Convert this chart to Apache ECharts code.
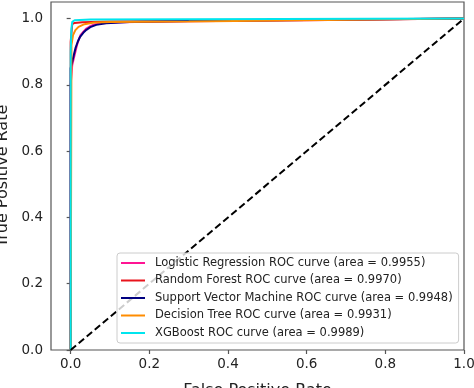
<!DOCTYPE html>
<html>
<head>
<meta charset="utf-8">
<script src="https://cdn.jsdelivr.net/npm/echarts@6/dist/echarts.min.js"></script>
<style>html,body{margin:0;padding:0;background:#fff}#c{width:474px;height:388px}</style>
</head>
<body>
<div id="c"></div>
<script>
// ROC curve data (false positive rate, true positive rate)
const lrFpr  = [0, 0, 0.004, 0.008, 0.012, 0.016, 0.02, 0.025, 0.032, 0.04, 0.05, 0.06, 0.08, 0.12, 0.3, 0.6, 1];
const lrTpr  = [0, 0.80, 0.86, 0.88, 0.90, 0.92, 0.935, 0.95, 0.96, 0.97, 0.977, 0.982, 0.986, 0.989, 0.992, 0.995, 1];
const rfFpr  = [0, 0, 0.004, 0.01, 0.03, 0.1, 0.4, 1];
const rfTpr  = [0, 0.93, 0.983, 0.987, 0.989, 0.991, 0.994, 1];
const svmFpr = [0, 0, 0.004, 0.008, 0.012, 0.018, 0.024, 0.032, 0.04, 0.05, 0.065, 0.09, 0.15, 0.3, 0.6, 1];
const svmTpr = [0, 0.85, 0.87, 0.89, 0.91, 0.93, 0.945, 0.957, 0.966, 0.974, 0.981, 0.986, 0.99, 0.993, 0.996, 1];
const dtFpr  = [0, 0.002, 0.006, 0.012, 0.02, 0.035, 0.06, 0.1, 0.3, 1];
const dtTpr  = [0, 0.92, 0.95, 0.965, 0.975, 0.983, 0.988, 0.99, 0.991, 1];
const xgbFpr = [0, 0, 0.002, 0.004, 0.01, 0.05, 0.3, 1];
const xgbTpr = [0, 0.90, 0.97, 0.99, 0.995, 0.997, 0.998, 1];
const diagFpr = [0, 1];
const diagTpr = [0, 1];

const names = [
  'Logistic Regression ROC curve (area = 0.9955)',
  'Random Forest ROC curve (area = 0.9970)',
  'Support Vector Machine ROC curve (area = 0.9948)',
  'Decision Tree ROC curve (area = 0.9931)',
  'XGBoost ROC curve (area = 0.9989)'
];
const colors = ['#ff1493', '#e8141c', '#000080', '#ff8c00', '#00e5ee'];
const xTicks = [0, 0.2, 0.4, 0.6, 0.8, 1.0];
const yTicks = [0, 0.2, 0.4, 0.6, 0.8, 1.0];

const zip = (a, b) => a.map((v, i) => [v, b[i]]);
const curves = [[lrFpr, lrTpr], [rfFpr, rfTpr], [svmFpr, svmTpr], [dtFpr, dtTpr], [xgbFpr, xgbTpr]];

const font = 'DejaVu Sans';
const chart = echarts.init(document.getElementById('c'), null, {renderer: 'canvas'});
const series = curves.map((c, i) => ({
  name: names[i], type: 'line', data: zip(c[0], c[1]), symbol: 'none',
  lineStyle: {color: colors[i], width: 2}, itemStyle: {color: colors[i]},
  animation: false, z: 2 + i * 0.01
}));
series.push({
  name: 'diag', type: 'line', data: zip(diagFpr, diagTpr), symbol: 'none',
  lineStyle: {color: '#000', width: 2, type: [7, 3.5]}, animation: false, z: 3
});

chart.setOption({
  animation: false,
  grid: {left: 51, right: 10, top: 2, bottom: 38, containLabel: false, outerBoundsMode: 'none',
         show: true, borderColor: '#555', borderWidth: 1.2, backgroundColor: '#fff'},
  xAxis: {
    type: 'value', min: -0.05, max: 1.0,
    name: 'False Positive Rate', nameLocation: 'middle', nameGap: 33,
    nameTextStyle: {fontFamily: font, fontSize: 16, color: '#222'},
    axisLine: {show: false},
    axisTick: {show: true, customValues: xTicks, length: 4, lineStyle: {color: '#555', width: 1.2}},
    axisLabel: {customValues: xTicks, formatter: v => v.toFixed(1), fontFamily: font, fontSize: 13.5, color: '#222', margin: 7},
    splitLine: {show: false}
  },
  yAxis: {
    type: 'value', min: 0, max: 1.05,
    name: 'True Positive Rate', nameLocation: 'middle', nameGap: 30,
    nameTextStyle: {fontFamily: font, fontSize: 16, color: '#222'},
    axisLine: {show: false},
    axisTick: {show: true, customValues: yTicks, length: 4, lineStyle: {color: '#555', width: 1.2}},
    axisLabel: {customValues: yTicks, formatter: v => v.toFixed(1), fontFamily: font, fontSize: 13.5, color: '#222', margin: 8},
    splitLine: {show: false}
  },
  legend: {
    data: names, orient: 'vertical', left: 117, top: 253,
    icon: 'rect', itemWidth: 24, itemHeight: 2, itemGap: 3.5,
    padding: [3, 6, 3, 4],
    backgroundColor: 'rgba(255,255,255,0.8)', borderColor: '#cccccc', borderWidth: 1, borderRadius: 3,
    textStyle: {fontFamily: font, fontSize: 11.5, color: '#222', lineHeight: 14, padding: [0, 0, 0, 5]},
    selectedMode: false
  },
  series: series
});
</script>
</body>
</html>
